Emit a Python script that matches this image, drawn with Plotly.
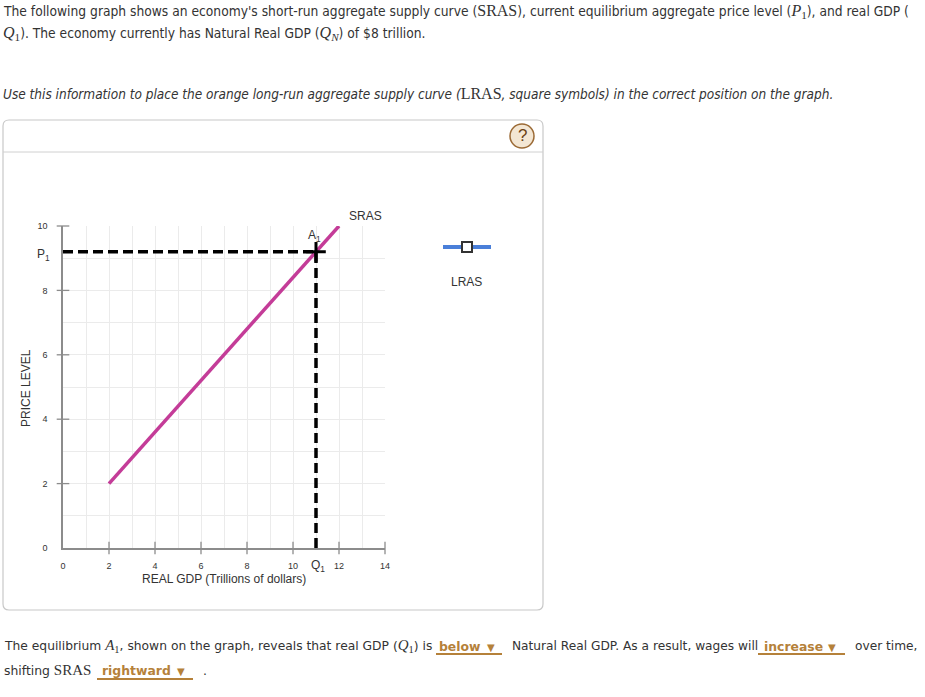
import plotly.graph_objects as go

# ---- data ----
x_ticks = [0, 2, 4, 6, 8, 10, 12, 14]
y_ticks = [0, 2, 4, 6, 8, 10]
sras_q = [2, 12]
sras_p = [2, 10]
q1 = 11
p1 = 9.2

W, H = 925, 697
def px(x):
    return x / W
def py(y):
    return 1 - y / H

fig = go.Figure()

# axis crossing tick marks
fig.add_trace(go.Scatter(x=x_ticks[1:], y=[0]*(len(x_ticks)-1), mode="markers",
                         marker=dict(symbol="line-ns-open", size=9, color="#8c8c8c",
                                     line=dict(color="#8c8c8c", width=1.3)),
                         cliponaxis=False, hoverinfo="skip", showlegend=False))
fig.add_trace(go.Scatter(x=[0]*(len(y_ticks)-1), y=y_ticks[1:], mode="markers",
                         marker=dict(symbol="line-ew-open", size=9, color="#8c8c8c",
                                     line=dict(color="#8c8c8c", width=1.3)),
                         cliponaxis=False, hoverinfo="skip", showlegend=False))

# SRAS
fig.add_trace(go.Scatter(x=sras_q, y=sras_p, mode="lines",
                         line=dict(color="#c43c98", width=3.5),
                         cliponaxis=False, hoverinfo="skip", showlegend=False))
# dashed guides
fig.add_trace(go.Scatter(x=[0, q1], y=[p1, p1], mode="lines",
                         line=dict(color="black", width=3.5, dash="10px,5px"),
                         cliponaxis=False, hoverinfo="skip", showlegend=False))
fig.add_trace(go.Scatter(x=[q1, q1], y=[0, p1], mode="lines",
                         line=dict(color="black", width=3.5, dash="10px,5px"),
                         cliponaxis=False, hoverinfo="skip", showlegend=False))
fig.add_trace(go.Scatter(x=[q1], y=[p1], mode="markers",
                         marker=dict(symbol="cross-thin-open", size=14, color="black",
                                     line=dict(color="black", width=3)),
                         cliponaxis=False, hoverinfo="skip", showlegend=False))

ax_common = dict(showline=True, linecolor="#8c8c8c", linewidth=1.5, zeroline=False,
                 showgrid=True, gridcolor="#ebebeb", gridwidth=1, ticks="",
                 tickfont=dict(family="Liberation Sans, Arial", size=9, color="#333"),
                 fixedrange=True, automargin=False)

fig.update_layout(
    template="none",
    width=W, height=H, margin=dict(l=0, r=0, t=0, b=0, pad=0, autoexpand=False),
    paper_bgcolor="white", plot_bgcolor="white", showlegend=False,
    xaxis=dict(domain=[px(63), px(385)], range=[0, 14], tickvals=x_ticks,
               minor=dict(dtick=1, showgrid=True, gridcolor="#ebebeb"),
               ticklabelstandoff=8, **ax_common),
    yaxis=dict(domain=[py(548), py(226)], range=[0, 10], tickvals=y_ticks,
               minor=dict(dtick=1, showgrid=True, gridcolor="#ebebeb"),
               ticklabelstandoff=12, **ax_common),
)

shapes = []
# panel box with rounded corners
x0, x1, y0, y1, r = px(3), px(543), py(120), py(610), 6
rx, ry = r / W, r / H
path = (f"M {x0+rx},{y0} L {x1-rx},{y0} Q {x1},{y0} {x1},{y0-ry} "
        f"L {x1},{y1+ry} Q {x1},{y1} {x1-rx},{y1} L {x0+rx},{y1} Q {x0},{y1} {x0},{y1+ry} "
        f"L {x0},{y0-ry} Q {x0},{y0} {x0+rx},{y0} Z")
shapes.append(dict(type="path", xref="paper", yref="paper", path=path,
                   line=dict(color="#c8c8c8", width=1.2), layer="below"))
shapes.append(dict(type="line", xref="paper", yref="paper", x0=px(3), x1=px(543),
                   y0=py(152), y1=py(152), line=dict(color="#d0d0d0", width=1)))
# help icon
shapes.append(dict(type="circle", xref="paper", yref="paper",
                   x0=px(510), x1=px(534), y0=py(124), y1=py(148),
                   fillcolor="#f3e6d3", line=dict(color="#9b6a35", width=1.5)))
# LRAS legend widget
shapes.append(dict(type="line", xref="paper", yref="paper", x0=px(443), x1=px(491),
                   y0=py(247), y1=py(247), line=dict(color="#4a7fd9", width=4)))
shapes.append(dict(type="rect", xref="paper", yref="paper", x0=px(462), x1=px(472),
                   y0=py(242), y1=py(252), fillcolor="white", line=dict(color="#333", width=2)))
# dropdown underlines
for (a, b, yy) in [(436, 502, 654), (758, 845, 654), (97, 193, 679)]:
    shapes.append(dict(type="line", xref="paper", yref="paper", x0=px(a), x1=px(b),
                       y0=py(yy), y1=py(yy), line=dict(color="#b5813a", width=2)))
fig.update_layout(shapes=shapes)

ann = []
def add_text(text, x, y, size=12, family="DejaVu Sans Condensed, Liberation Sans Narrow", color="#333",
             xanchor="left", italic=False, bold=False):
    ann.append(dict(text=text, x=px(x), y=py(y), xref="paper", yref="paper", showarrow=False,
                    xanchor=xanchor, yanchor="middle",
                    font=dict(size=size, family=family, color=color,
                              style="italic" if italic else "normal",
                              weight="bold" if bold else "normal")))

serif = '<span style="font-family:Liberation Serif, DejaVu Serif;font-size:16px">'
serif_up = '<span style="font-family:Liberation Serif, DejaVu Serif;font-size:16px;font-style:normal">'
serif_b = '<span style="font-family:Liberation Serif, DejaVu Serif;font-size:15px">'
add_text(f"The following graph shows an economy's short-run aggregate supply curve ({serif}SRAS</span>), "
         f"current equilibrium aggregate price level ({serif}<i>P</i><sub>1</sub></span>), and real GDP (",
         1, 12, size=13.7)
add_text(f"{serif}<i>Q</i><sub>1</sub></span>). The economy currently has Natural Real GDP "
         f"({serif}<i>Q<sub>N</sub></i></span>) of $8 trillion.", 1, 33, size=13.7)
add_text(f"Use this information to place the orange long-run aggregate supply curve "
         f"({serif_up}LRAS</span>, square symbols) in the correct position on the graph.", 1, 93,
         size=13.5, italic=True)

# help icon mark
add_text("?", 522, 136, size=17, family="Liberation Sans, Arial", color="#6b4215", xanchor="center")

# chart labels
add_text("SRAS", 365, 216, size=12, family="Liberation Sans, Arial", xanchor="center")
add_text("LRAS", 467, 282, size=12, family="Liberation Sans, Arial", xanchor="center")
add_text("A<sub>1</sub>", 314, 236, size=12, family="Liberation Sans, Arial", xanchor="center")
add_text("P<sub>1</sub>", 43, 255, size=12, family="Liberation Sans, Arial", xanchor="center")
add_text("Q<sub>1</sub>", 318, 566, size=12, family="Liberation Sans, Arial", xanchor="center")
add_text("REAL GDP (Trillions of dollars)", 224, 579, size=12, family="Liberation Sans, Arial", xanchor="center")
ann.append(dict(text="PRICE LEVEL", x=px(17), y=py(388), xref="paper", yref="paper", showarrow=False,
                textangle=-90, font=dict(size=12, family="Liberation Sans, Arial", color="#333")))

# bottom sentence
vf = "DejaVu Sans, Verdana"
brown = "#b5813a"
add_text(f"The equilibrium {serif_b}<i>A</i><sub>1</sub></span>, shown on the graph, reveals that real GDP "
         f"({serif_b}<i>Q</i><sub>1</sub></span>) is", 2, 646, size=12.3, family=vf)
add_text("below", 437, 646, size=12.4, family=vf, color=brown, bold=True)
add_text("▼", 491, 647, size=10, family=vf, color=brown, xanchor="center")
add_text("Natural Real GDP. As a result, wages will", 510, 646, size=12.2, family=vf)
add_text("increase", 762, 646, size=12.4, family=vf, color=brown, bold=True)
add_text("▼", 832, 647, size=10, family=vf, color=brown, xanchor="center")
add_text("over time,", 853, 646, size=12.2, family=vf)
add_text(f"shifting {serif_b}SRAS</span>", 2, 670, size=12.4, family=vf)
add_text("rightward", 100, 670, size=12.4, family=vf, color=brown, bold=True)
add_text("▼", 181, 671, size=10, family=vf, color=brown, xanchor="center")
add_text(".", 201, 670, size=12.4, family=vf)

fig.update_layout(annotations=ann)
fig.write_html("out.html", config={"displayModeBar": False},
               post_script="document.body.style.margin='0';document.body.style.overflow='hidden';")
